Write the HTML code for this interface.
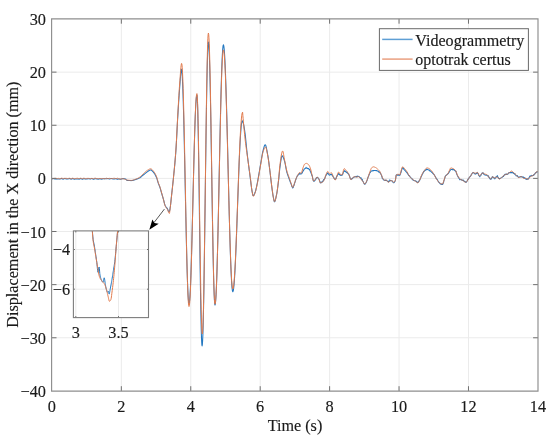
<!DOCTYPE html>
<html><head><meta charset="utf-8"><title>Displacement plot</title>
<style>html,body{margin:0;padding:0;background:#fff;width:550px;height:442px;overflow:hidden} svg text{stroke:#1a1a1a;stroke-width:.15px}</style>
</head><body>
<svg width="550" height="442" viewBox="0 0 550 442" style="display:block;font-family:'Liberation Serif','Times New Roman',serif;font-size:16.3px" fill="#1a1a1a">
<defs><clipPath id="cm"><rect x="51.9" y="19.0" width="486.00" height="371.90"/></clipPath>
<clipPath id="ci"><rect x="73.4" y="230.9" width="75.10" height="86.70"/></clipPath></defs>
<rect width="550" height="442" fill="#fff"/>
<line x1="121.33" y1="19.0" x2="121.33" y2="390.9" stroke="#ebebeb" stroke-width="1"/>
<line x1="190.76" y1="19.0" x2="190.76" y2="390.9" stroke="#ebebeb" stroke-width="1"/>
<line x1="260.19" y1="19.0" x2="260.19" y2="390.9" stroke="#ebebeb" stroke-width="1"/>
<line x1="329.61" y1="19.0" x2="329.61" y2="390.9" stroke="#ebebeb" stroke-width="1"/>
<line x1="399.04" y1="19.0" x2="399.04" y2="390.9" stroke="#ebebeb" stroke-width="1"/>
<line x1="468.47" y1="19.0" x2="468.47" y2="390.9" stroke="#ebebeb" stroke-width="1"/>
<line x1="51.9" y1="337.77" x2="537.9" y2="337.77" stroke="#ebebeb" stroke-width="1"/>
<line x1="51.9" y1="284.64" x2="537.9" y2="284.64" stroke="#ebebeb" stroke-width="1"/>
<line x1="51.9" y1="231.51" x2="537.9" y2="231.51" stroke="#ebebeb" stroke-width="1"/>
<line x1="51.9" y1="178.39" x2="537.9" y2="178.39" stroke="#ebebeb" stroke-width="1"/>
<line x1="51.9" y1="125.26" x2="537.9" y2="125.26" stroke="#ebebeb" stroke-width="1"/>
<line x1="51.9" y1="72.13" x2="537.9" y2="72.13" stroke="#ebebeb" stroke-width="1"/>
<g clip-path="url(#cm)" fill="none" stroke-width="1.0" stroke-linejoin="round">
<path d="M51.90 179.02L52.15 178.88L52.40 178.77L52.65 178.69L52.90 178.63L53.15 178.59L53.40 178.57L53.65 178.58L53.90 178.65L54.15 178.76L54.40 178.88L54.65 179.00L54.90 179.08L55.15 179.10L55.40 179.09L55.65 179.05L55.90 179.01L56.15 178.97L56.40 178.93L56.65 178.92L56.90 178.92L57.15 178.92L57.40 178.92L57.65 178.93L57.90 178.93L58.15 178.93L58.40 178.93L58.65 178.94L58.90 178.94L59.15 178.94L59.40 178.94L59.65 178.94L59.90 178.94L60.15 178.92L60.40 178.86L60.65 178.78L60.90 178.70L61.15 178.63L61.40 178.59L61.65 178.60L61.90 178.68L62.15 178.79L62.40 178.91L62.65 179.03L62.90 179.11L63.15 179.13L63.40 179.08L63.65 178.98L63.90 178.85L64.15 178.73L64.40 178.63L64.65 178.58L64.90 178.59L65.15 178.63L65.40 178.69L65.65 178.77L65.90 178.83L66.15 178.88L66.40 178.89L66.65 178.90L66.90 178.91L67.15 178.92L67.40 178.92L67.65 178.93L67.90 178.93L68.15 178.91L68.40 178.85L68.65 178.77L68.90 178.70L69.15 178.63L69.40 178.59L69.65 178.60L69.90 178.67L70.15 178.78L70.40 178.91L70.65 179.02L70.90 179.10L71.15 179.12L71.40 179.07L71.65 178.98L71.90 178.86L72.15 178.74L72.40 178.65L72.65 178.60L72.90 178.62L73.15 178.71L73.40 178.83L73.65 178.97L73.90 179.09L74.15 179.16L74.40 179.18L74.65 179.15L74.90 179.09L75.15 179.03L75.40 178.97L75.65 178.93L75.90 178.91L76.15 178.91L76.40 178.91L76.65 178.92L76.90 178.92L77.15 178.92L77.40 178.93L77.65 178.94L77.90 178.97L78.15 179.01L78.40 179.06L78.65 179.10L78.90 179.13L79.15 179.14L79.40 179.09L79.65 179.00L79.90 178.88L80.15 178.76L80.40 178.66L80.65 178.61L80.90 178.64L81.15 178.73L81.40 178.86L81.65 178.99L81.90 179.12L82.15 179.20L82.40 179.20L82.65 179.14L82.90 179.04L83.15 178.91L83.40 178.78L83.65 178.69L83.90 178.66L84.15 178.68L84.40 178.73L84.65 178.81L84.90 178.89L85.15 178.95L85.40 178.99L85.65 178.99L85.90 178.99L86.15 178.97L86.40 178.96L86.65 178.93L86.90 178.91L87.15 178.89L87.40 178.86L87.65 178.82L87.90 178.78L88.15 178.74L88.40 178.71L88.65 178.70L88.90 178.71L89.15 178.75L89.40 178.81L89.65 178.87L89.90 178.93L90.15 178.96L90.40 178.96L90.65 178.92L90.90 178.84L91.15 178.74L91.40 178.65L91.65 178.59L91.90 178.56L92.15 178.60L92.40 178.72L92.65 178.87L92.90 179.03L93.15 179.17L93.40 179.25L93.65 179.24L93.90 179.17L94.15 179.07L94.40 178.95L94.65 178.84L94.90 178.77L95.15 178.75L95.40 178.75L95.65 178.77L95.90 178.80L96.15 178.82L96.40 178.85L96.65 178.88L96.90 178.92L97.15 178.97L97.40 179.02L97.65 179.08L97.90 179.12L98.15 179.15L98.40 179.15L98.65 179.10L98.90 179.02L99.15 178.93L99.40 178.84L99.65 178.77L99.90 178.74L100.15 178.77L100.40 178.83L100.65 178.91L100.90 179.00L101.15 179.07L101.40 179.12L101.65 179.11L101.90 179.07L102.15 179.01L102.40 178.94L102.65 178.87L102.90 178.81L103.15 178.79L103.40 178.78L103.65 178.77L103.90 178.76L104.15 178.76L104.40 178.75L104.65 178.75L104.90 178.75L105.15 178.77L105.40 178.79L105.65 178.81L105.90 178.82L106.15 178.83L106.40 178.83L106.65 178.80L106.90 178.75L107.15 178.69L107.40 178.63L107.65 178.59L107.90 178.57L108.15 178.60L108.40 178.67L108.65 178.77L108.90 178.87L109.15 178.96L109.40 179.01L109.65 179.00L109.90 178.93L110.15 178.83L110.40 178.72L110.65 178.61L110.90 178.54L111.15 178.52L111.40 178.55L111.65 178.61L111.90 178.69L112.15 178.77L112.40 178.84L112.65 178.88L112.90 178.89L113.15 178.90L113.40 178.91L113.65 178.91L113.90 178.92L114.15 178.92L114.40 178.92L114.65 178.89L114.90 178.83L115.15 178.77L115.40 178.71L115.65 178.67L115.90 178.65L116.15 178.69L116.40 178.80L116.65 178.94L116.90 179.09L117.15 179.22L117.40 179.29L117.65 179.28L117.90 179.16L118.15 179.01L118.40 178.91L118.65 178.91L118.90 178.93L119.15 178.98L119.40 179.04L119.65 179.10L119.90 179.15L120.15 179.19L120.40 179.20L120.65 179.19L120.90 179.15L121.15 179.09L121.40 179.01L121.65 178.93L121.90 178.85L122.15 178.77L122.40 178.70L122.65 178.64L122.90 178.61L123.15 178.60L123.40 178.61L123.65 178.63L123.90 178.65L124.15 178.69L124.40 178.73L124.65 178.78L124.90 178.84L125.15 178.90L125.40 178.97L125.65 179.07L125.90 179.26L126.15 179.51L126.40 179.80L126.65 180.06L126.90 180.28L127.15 180.39L127.40 180.42L127.65 180.44L127.90 180.47L128.15 180.49L128.40 180.50L128.65 180.52L128.90 180.54L129.15 180.55L129.40 180.56L129.65 180.57L129.90 180.58L130.15 180.59L130.40 180.59L130.65 180.60L130.90 180.60L131.15 180.60L131.40 180.60L131.65 180.59L131.90 180.56L132.15 180.53L132.40 180.49L132.65 180.44L132.90 180.38L133.15 180.31L133.40 180.24L133.65 180.17L133.90 180.09L134.15 180.01L134.40 179.92L134.65 179.84L134.90 179.76L135.15 179.68L135.40 179.60L135.65 179.52L135.90 179.44L136.15 179.36L136.40 179.28L136.65 179.19L136.90 179.10L137.15 179.01L137.40 178.91L137.65 178.81L137.90 178.71L138.15 178.60L138.40 178.49L138.65 178.37L138.90 178.25L139.15 178.13L139.40 178.00L139.65 177.86L139.90 177.71L140.15 177.54L140.40 177.36L140.65 177.18L140.90 176.98L141.15 176.78L141.40 176.57L141.65 176.36L141.90 176.14L142.15 175.93L142.40 175.71L142.65 175.50L142.90 175.29L143.15 175.08L143.40 174.88L143.65 174.68L143.90 174.48L144.15 174.28L144.40 174.07L144.65 173.87L144.90 173.66L145.15 173.45L145.40 173.24L145.65 173.04L145.90 172.84L146.15 172.64L146.40 172.44L146.65 172.26L146.90 172.07L147.15 171.90L147.40 171.73L147.65 171.57L147.90 171.40L148.15 171.23L148.40 171.05L148.65 170.87L148.90 170.70L149.15 170.53L149.40 170.38L149.65 170.25L149.90 170.14L150.15 170.06L150.40 170.01L150.65 170.00L150.90 170.04L151.15 170.12L151.40 170.26L151.65 170.42L151.90 170.63L152.15 170.86L152.40 171.11L152.65 171.38L152.90 171.67L153.15 171.96L153.40 172.25L153.65 172.54L153.90 172.84L154.15 173.16L154.40 173.52L154.65 173.90L154.90 174.31L155.15 174.75L155.40 175.21L155.65 175.70L155.90 176.21L156.15 176.75L156.40 177.30L156.65 177.92L156.90 178.65L157.15 179.44L157.40 180.28L157.65 181.13L157.90 181.97L158.15 182.77L158.40 183.50L158.65 184.15L158.90 184.76L159.15 185.34L159.40 185.94L159.65 186.58L159.90 187.30L160.15 188.09L160.40 188.94L160.65 189.83L160.90 190.73L161.15 191.63L161.40 192.50L161.65 193.34L161.90 194.17L162.15 195.00L162.40 195.82L162.65 196.65L162.90 197.49L163.15 198.33L163.40 199.21L163.65 200.16L163.90 201.15L164.15 202.14L164.40 203.09L164.65 203.97L164.90 204.75L165.15 205.39L165.40 205.89L165.65 206.33L165.90 206.71L166.15 207.05L166.40 207.38L166.65 207.69L166.90 208.02L167.15 208.37L167.40 208.77L167.65 209.25L167.90 209.80L168.15 210.36L168.40 210.88L168.65 211.33L168.90 211.65L169.15 211.80L169.40 211.52L169.65 210.57L169.90 209.31L170.15 207.96L170.40 206.20L170.65 204.10L170.90 201.76L171.15 199.30L171.40 196.83L171.65 194.45L171.90 192.21L172.15 189.98L172.40 187.74L172.65 185.46L172.90 183.14L173.15 180.76L173.40 178.30L173.65 175.80L173.90 173.31L174.15 170.81L174.40 168.25L174.65 165.62L174.90 162.90L175.15 160.05L175.40 157.05L175.65 153.88L175.90 150.50L176.15 146.71L176.40 142.40L176.65 137.73L176.90 132.86L177.15 127.94L177.40 123.12L177.65 118.55L177.90 114.36L178.15 110.27L178.40 106.23L178.65 102.28L178.90 98.44L179.15 94.74L179.40 91.21L179.65 87.88L179.90 84.73L180.15 81.32L180.40 77.81L180.65 74.52L180.90 71.78L181.15 69.90L181.40 69.20L181.72 70.20L182.03 73.20L182.35 78.13L182.67 84.92L182.98 93.44L183.30 103.56L183.62 115.09L183.93 127.85L184.25 141.61L184.57 156.14L184.88 171.19L185.20 186.50L185.52 201.81L185.83 216.86L186.15 231.39L186.47 245.15L186.78 257.91L187.10 269.44L187.42 279.56L187.73 288.08L188.05 294.87L188.37 299.80L188.68 302.80L189.00 303.80L189.33 302.91L189.66 300.24L189.99 295.85L190.32 289.81L190.65 282.23L190.97 273.22L191.30 262.95L191.63 251.60L191.96 239.35L192.29 226.42L192.62 213.03L192.95 199.40L193.28 185.77L193.61 172.38L193.94 159.45L194.27 147.20L194.60 135.85L194.93 125.58L195.25 116.57L195.58 108.99L195.91 102.95L196.24 98.56L196.57 95.89L196.90 95.00L197.12 96.07L197.33 99.28L197.55 104.55L197.77 111.81L197.98 120.93L198.20 131.76L198.42 144.10L198.63 157.75L198.85 172.47L199.07 188.02L199.28 204.12L199.50 220.50L199.72 236.88L199.93 252.98L200.15 268.53L200.37 283.25L200.58 296.90L200.80 309.24L201.02 320.07L201.23 329.19L201.45 336.45L201.67 341.72L201.88 344.93L202.10 346.00L202.36 344.70L202.62 340.82L202.89 334.43L203.15 325.64L203.41 314.59L203.68 301.48L203.94 286.53L204.20 270.00L204.46 252.17L204.72 233.34L204.99 213.84L205.25 194.00L205.51 174.16L205.78 154.66L206.04 135.83L206.30 118.00L206.56 101.47L206.82 86.52L207.09 73.41L207.35 62.36L207.61 53.57L207.88 47.18L208.14 43.30L208.40 42.00L208.68 43.13L208.95 46.48L209.22 52.01L209.50 59.62L209.78 69.17L210.05 80.52L210.33 93.45L210.60 107.75L210.88 123.18L211.15 139.47L211.43 156.34L211.70 173.50L211.97 190.66L212.25 207.53L212.53 223.82L212.80 239.25L213.07 253.55L213.35 266.48L213.62 277.83L213.90 287.38L214.18 294.99L214.45 300.52L214.72 303.87L215.00 305.00L215.35 303.89L215.70 300.57L216.05 295.10L216.40 287.57L216.75 278.12L217.10 266.89L217.45 254.10L217.80 239.95L218.15 224.69L218.50 208.57L218.85 191.88L219.20 174.90L219.55 157.92L219.90 141.23L220.25 125.11L220.60 109.85L220.95 95.70L221.30 82.91L221.65 71.68L222.00 62.23L222.35 54.70L222.70 49.23L223.05 45.91L223.40 44.80L223.79 45.86L224.18 49.01L224.58 54.20L224.97 61.35L225.36 70.32L225.75 80.97L226.14 93.12L226.53 106.55L226.93 121.04L227.32 136.34L227.71 152.18L228.10 168.30L228.49 184.42L228.88 200.26L229.28 215.56L229.67 230.05L230.06 243.48L230.45 255.63L230.84 266.28L231.23 275.25L231.62 282.40L232.02 287.59L232.41 290.74L232.80 291.80L233.20 291.07L233.59 288.89L233.99 285.29L234.38 280.35L234.78 274.13L235.18 266.76L235.57 258.35L235.97 249.05L236.36 239.02L236.76 228.43L237.15 217.46L237.55 206.30L237.95 195.14L238.34 184.17L238.74 173.58L239.13 163.55L239.53 154.25L239.93 145.84L240.32 138.47L240.72 132.25L241.11 127.31L241.51 123.71L241.90 121.53L242.30 120.80L242.55 121.19L242.80 121.76L243.05 122.47L243.30 123.29L243.55 124.19L243.80 125.29L244.05 126.62L244.30 128.13L244.55 129.80L244.80 131.55L245.05 133.37L245.30 135.40L245.55 137.67L245.80 140.11L246.05 142.65L246.30 145.22L246.55 147.76L246.80 150.19L247.05 152.44L247.30 154.59L247.55 156.69L247.80 158.76L248.05 160.80L248.30 162.81L248.55 164.79L248.80 166.75L249.05 168.69L249.30 170.62L249.55 172.54L249.80 174.45L250.05 176.35L250.30 178.27L250.55 180.27L250.80 182.31L251.05 184.33L251.30 186.27L251.55 188.08L251.80 189.69L252.05 191.06L252.30 192.41L252.55 193.72L252.80 194.81L253.05 195.48L253.30 195.59L253.55 195.44L253.80 195.14L254.05 194.73L254.30 194.22L254.55 193.64L254.80 193.02L255.05 192.38L255.30 191.73L255.55 190.95L255.80 190.02L256.05 188.97L256.30 187.84L256.55 186.66L256.80 185.45L257.05 184.24L257.30 183.02L257.55 181.72L257.80 180.36L258.05 178.97L258.30 177.56L258.55 176.15L258.80 174.71L259.05 173.25L259.30 171.76L259.55 170.26L259.80 168.76L260.05 167.27L260.30 165.80L260.55 164.35L260.80 162.93L261.05 161.47L261.30 159.98L261.55 158.47L261.80 156.98L262.05 155.54L262.30 154.16L262.55 152.87L262.80 151.71L263.05 150.69L263.30 149.76L263.55 148.81L263.80 147.87L264.05 146.98L264.30 146.18L264.55 145.52L264.80 145.03L265.05 144.75L265.30 144.73L265.55 145.01L265.80 145.56L266.05 146.36L266.30 147.35L266.55 148.51L266.80 149.80L267.05 151.17L267.30 152.60L267.55 154.03L267.80 155.45L268.05 156.86L268.30 158.45L268.55 160.21L268.80 162.09L269.05 164.08L269.30 166.11L269.55 168.17L269.80 170.20L270.05 172.21L270.30 174.32L270.55 176.49L270.80 178.70L271.05 180.89L271.30 183.03L271.55 185.08L271.80 187.00L272.05 188.84L272.30 190.65L272.55 192.41L272.80 194.08L273.05 195.62L273.30 197.00L273.55 198.26L273.80 199.57L274.05 200.75L274.30 201.57L274.55 201.79L274.80 201.57L275.05 201.06L275.30 200.31L275.55 199.38L275.80 198.31L276.05 197.15L276.30 195.94L276.55 194.74L276.80 193.48L277.05 192.02L277.30 190.36L277.55 188.56L277.80 186.65L278.05 184.66L278.30 182.63L278.55 180.59L278.80 178.32L279.05 175.82L279.30 173.26L279.55 170.78L279.80 168.53L280.05 166.65L280.30 164.86L280.55 163.03L280.80 161.25L281.05 159.59L281.30 158.14L281.55 156.97L281.80 156.17L282.05 155.81L282.30 155.86L282.55 156.07L282.80 156.44L283.05 156.92L283.30 157.50L283.55 158.16L283.80 158.88L284.05 159.63L284.30 160.40L284.55 161.15L284.80 162.07L285.05 163.18L285.30 164.43L285.55 165.77L285.80 167.15L286.05 168.51L286.30 169.81L286.55 170.99L286.80 172.00L287.05 172.88L287.30 173.69L287.55 174.47L287.80 175.20L288.05 175.90L288.30 176.58L288.55 177.25L288.80 177.92L289.05 178.59L289.30 179.28L289.55 179.95L289.80 180.62L290.05 181.29L290.30 181.94L290.55 182.59L290.80 183.23L291.05 183.87L291.30 184.56L291.55 185.37L291.80 186.19L292.05 186.96L292.30 186.94L292.55 187.93L292.80 187.98L293.05 187.74L293.30 187.27L293.55 185.77L293.80 185.89L294.05 185.07L294.30 184.24L294.55 183.44L294.80 182.51L295.05 181.93L295.30 181.09L295.55 180.26L295.80 179.48L296.05 178.98L296.30 178.14L296.55 177.52L296.80 176.94L297.05 176.44L297.30 175.78L297.55 175.72L297.80 175.40L298.05 175.10L298.30 174.82L298.55 174.40L298.80 174.36L299.05 174.20L299.30 174.09L299.55 174.03L299.80 173.12L300.05 173.99L300.30 173.97L300.55 173.96L300.80 173.94L301.05 173.75L301.30 173.87L301.55 173.67L301.80 173.34L302.05 172.93L302.30 172.97L302.55 171.98L302.80 171.54L303.05 171.14L303.30 170.70L303.55 170.61L303.80 169.78L304.05 169.36L304.30 169.01L304.55 168.77L304.80 168.81L305.05 168.47L305.30 168.35L305.55 168.24L305.80 168.15L306.05 167.36L306.30 168.08L306.55 168.09L306.80 168.11L307.05 168.15L307.30 168.64L307.55 168.26L307.80 168.33L308.05 168.42L308.30 168.51L308.55 169.00L308.80 168.76L309.05 169.02L309.30 169.38L309.55 169.81L309.80 169.64L310.05 170.78L310.30 171.28L310.55 171.79L310.80 172.35L311.05 173.02L311.30 173.62L311.55 174.30L311.80 175.00L312.05 175.73L312.30 175.77L312.55 177.71L312.80 178.83L313.05 179.87L313.30 180.70L313.55 180.48L313.80 181.28L314.05 181.20L314.30 181.04L314.55 180.82L314.80 180.14L315.05 180.28L315.30 180.00L315.55 179.71L315.80 179.29L316.05 178.14L316.30 178.31L316.55 177.86L316.80 177.52L317.05 177.37L317.30 177.63L317.55 177.49L317.80 177.66L318.05 177.89L318.30 178.15L318.55 178.76L318.80 178.74L319.05 179.20L319.30 179.90L319.55 180.72L319.80 181.16L320.05 182.26L320.30 182.73L320.55 182.86L320.80 182.82L321.05 182.30L321.30 182.59L321.55 182.43L321.80 182.24L322.05 182.05L322.30 181.12L322.55 181.63L322.80 181.37L323.05 181.07L323.30 180.74L323.55 179.61L323.80 180.01L324.05 179.61L324.30 179.20L324.55 178.75L324.80 178.37L325.05 177.57L325.30 176.91L325.55 176.27L325.80 175.70L326.05 175.24L326.30 174.88L326.55 174.52L326.80 174.18L327.05 173.88L327.30 172.82L327.55 173.47L327.80 173.42L328.05 173.52L328.30 173.78L328.55 173.95L328.80 174.50L329.05 174.84L329.30 175.07L329.55 175.13L329.80 174.76L330.05 174.91L330.30 174.71L330.55 174.51L330.80 174.34L331.05 174.60L331.30 174.22L331.55 174.34L331.80 174.57L332.05 174.89L332.30 175.45L332.55 175.69L332.80 176.13L333.05 176.56L333.30 176.97L333.55 177.32L333.80 177.71L334.05 178.14L334.30 178.58L334.55 178.97L334.80 179.22L335.05 179.47L335.30 179.48L335.55 179.21L335.80 178.71L336.05 178.59L336.30 177.37L336.55 176.71L336.80 176.16L337.05 175.75L337.30 175.93L337.55 174.96L337.80 174.59L338.05 174.29L338.30 174.08L338.55 173.59L338.80 174.03L339.05 174.19L339.30 174.44L339.55 174.71L339.80 174.43L340.05 175.16L340.30 175.24L340.55 175.25L340.80 175.25L341.05 175.55L341.30 175.26L341.55 175.27L341.80 175.27L342.05 175.26L342.30 174.26L342.55 174.63L342.80 174.05L343.05 173.37L343.30 172.69L343.55 171.70L343.80 171.56L344.05 171.26L344.30 171.20L344.55 171.24L344.80 170.52L345.05 171.43L345.30 171.56L345.55 171.71L345.80 171.87L346.05 171.62L346.30 172.21L346.55 172.38L346.80 172.55L347.05 172.74L347.30 172.14L347.55 173.15L347.80 173.38L348.05 173.63L348.30 173.90L348.55 173.73L348.80 174.51L349.05 174.93L349.30 175.50L349.55 176.16L349.80 177.16L350.05 177.57L350.30 178.19L350.55 178.69L350.80 179.00L351.05 179.55L351.30 179.04L351.55 178.94L351.80 178.80L352.05 178.62L352.30 178.71L352.55 178.22L352.80 178.02L353.05 177.83L353.30 177.67L353.55 177.46L353.80 177.34L354.05 177.17L354.30 177.00L354.55 176.87L354.80 176.81L355.05 176.77L355.30 176.77L355.55 176.77L355.80 176.77L356.05 176.41L356.30 176.77L356.55 176.75L356.80 176.73L357.05 176.69L357.30 176.00L357.55 176.60L357.80 176.56L358.05 176.52L358.30 176.50L358.55 176.25L358.80 176.55L359.05 176.66L359.30 176.83L359.55 177.04L359.80 177.48L360.05 177.55L360.30 177.82L360.55 178.10L360.80 178.36L361.05 177.82L361.30 178.92L361.55 179.24L361.80 179.58L362.05 179.93L362.30 179.42L362.55 180.67L362.80 181.05L363.05 181.43L363.30 181.90L363.55 182.71L363.80 183.03L364.05 183.56L364.30 183.98L364.55 184.23L364.80 183.81L365.05 184.12L365.30 183.85L365.55 183.48L365.80 183.04L366.05 182.71L366.30 182.07L366.55 181.58L366.80 180.97L367.05 180.27L367.30 179.72L367.55 178.75L367.80 178.00L368.05 177.30L368.30 176.66L368.55 176.51L368.80 175.37L369.05 174.75L369.30 174.17L369.55 173.65L369.80 172.90L370.05 172.79L370.30 172.39L370.55 172.01L370.80 171.67L371.05 171.03L371.30 171.17L371.55 171.02L371.80 170.92L372.05 170.83L372.30 171.06L372.55 170.68L372.80 170.63L373.05 170.59L373.30 170.56L373.55 170.77L373.80 170.50L374.05 170.47L374.30 170.45L374.55 170.43L374.80 170.50L375.05 170.41L375.30 170.40L375.55 170.40L375.80 170.42L376.05 170.78L376.30 170.52L376.55 170.60L376.80 170.69L377.05 170.79L377.30 170.96L377.55 171.00L377.80 171.11L378.05 171.23L378.30 171.36L378.55 172.05L378.80 171.68L379.05 171.87L379.30 172.07L379.55 172.29L379.80 172.14L380.05 172.83L380.30 173.15L380.55 173.51L380.80 173.89L381.05 174.51L381.30 174.81L381.55 175.48L381.80 176.24L382.05 177.03L382.30 178.30L382.55 178.41L382.80 178.85L383.05 179.18L383.30 179.49L383.55 179.37L383.80 180.00L384.05 180.19L384.30 180.31L384.55 180.35L384.80 180.38L385.05 180.37L385.30 180.38L385.55 180.38L385.80 180.39L386.05 180.05L386.30 180.42L386.55 180.51L386.80 180.68L387.05 180.89L387.30 180.92L387.55 181.36L387.80 181.58L388.05 181.76L388.30 181.87L388.55 181.11L388.80 181.79L389.05 181.56L389.30 181.27L389.55 180.97L389.80 179.84L390.05 180.54L390.30 180.51L390.55 180.53L390.80 180.56L391.05 180.84L391.30 180.66L391.55 180.72L391.80 180.80L392.05 180.91L392.30 180.96L392.55 181.55L392.80 181.95L393.05 182.33L393.30 182.63L393.55 182.80L393.80 182.73L394.05 182.57L394.30 182.29L394.55 181.92L394.80 181.68L395.05 180.96L395.30 180.41L395.55 179.33L395.80 177.63L396.05 175.67L396.30 174.88L396.55 174.78L396.80 174.84L397.05 174.95L397.30 174.72L397.55 175.19L397.80 175.29L398.05 175.33L398.30 175.33L398.55 174.66L398.80 175.28L399.05 175.24L399.30 175.18L399.55 175.11L399.80 175.32L400.05 174.78L400.30 174.24L400.55 173.52L400.80 172.73L401.05 172.30L401.30 171.25L401.55 170.43L401.80 169.54L402.05 168.71L402.30 168.28L402.55 167.78L402.80 167.81L403.05 167.97L403.30 168.23L403.55 168.96L403.80 168.90L404.05 169.27L404.30 169.61L404.55 169.92L404.80 170.27L405.05 170.47L405.30 170.75L405.55 171.03L405.80 171.31L406.05 171.75L406.30 171.91L406.55 172.22L406.80 172.56L407.05 172.91L407.30 172.67L407.55 173.65L407.80 174.02L408.05 174.38L408.30 174.73L408.55 175.31L408.80 175.38L409.05 175.68L409.30 175.98L409.55 176.27L409.80 176.16L410.05 176.84L410.30 177.12L410.55 177.38L410.80 177.66L411.05 177.70L411.30 178.23L411.55 178.52L411.80 178.80L412.05 179.07L412.30 178.91L412.55 179.57L412.80 179.79L413.05 179.99L413.30 180.16L413.55 180.25L413.80 180.41L414.05 180.50L414.30 180.58L414.55 180.65L414.80 180.80L415.05 180.79L415.30 180.86L415.55 180.96L415.80 181.07L416.05 181.19L416.30 181.46L416.55 181.72L416.80 181.99L417.05 182.24L417.30 182.01L417.55 182.56L417.80 182.56L418.05 182.44L418.30 182.21L418.55 181.30L418.80 181.48L419.05 181.05L419.30 180.60L419.55 180.16L419.80 180.10L420.05 179.27L420.30 178.76L420.55 178.21L420.80 177.65L421.05 176.62L421.30 176.49L421.55 175.93L421.80 175.40L422.05 174.91L422.30 174.18L422.55 173.93L422.80 173.43L423.05 172.94L423.30 172.49L423.55 171.31L423.80 171.70L424.05 171.40L424.30 171.16L424.55 170.94L424.80 170.28L425.05 170.53L425.30 170.33L425.55 170.16L425.80 170.00L426.05 169.09L426.30 169.74L426.55 169.65L426.80 169.60L427.05 169.57L427.30 169.19L427.55 169.60L427.80 169.65L428.05 169.71L428.30 169.78L428.55 170.03L428.80 169.96L429.05 170.05L429.30 170.15L429.55 170.28L429.80 171.01L430.05 170.66L430.30 170.89L430.55 171.15L430.80 171.41L431.05 171.72L431.30 171.94L431.55 172.18L431.80 172.41L432.05 172.63L432.30 172.35L432.55 173.06L432.80 173.28L433.05 173.51L433.30 173.75L433.55 174.09L433.80 174.28L434.05 174.58L434.30 174.93L434.55 175.32L434.80 175.77L435.05 176.16L435.30 176.60L435.55 177.03L435.80 177.46L436.05 178.21L436.30 178.26L436.55 178.65L436.80 179.04L437.05 179.43L437.30 179.71L437.55 180.19L437.80 180.56L438.05 180.91L438.30 181.26L438.55 182.06L438.80 181.94L439.05 182.30L439.30 182.65L439.55 183.00L439.80 183.04L440.05 183.60L440.30 183.83L440.55 184.02L440.80 184.14L441.05 183.77L441.30 184.33L441.55 184.42L441.80 184.48L442.05 184.53L442.30 184.43L442.55 184.50L442.80 184.15L443.05 183.57L443.30 182.83L443.55 182.49L443.80 181.16L444.05 180.38L444.30 179.63L444.55 178.76L444.80 178.05L445.05 177.03L445.30 176.35L445.55 175.91L445.80 175.62L446.05 175.23L446.30 175.19L446.55 175.02L446.80 174.86L447.05 174.69L447.30 174.34L447.55 174.25L447.80 173.97L448.05 173.66L448.30 173.33L448.55 173.05L448.80 172.63L449.05 172.28L449.30 171.92L449.55 171.50L449.80 170.80L450.05 170.57L450.30 170.14L450.55 169.81L450.80 169.60L451.05 169.46L451.30 169.48L451.55 169.44L451.80 169.40L452.05 169.37L452.30 169.90L452.55 169.32L452.80 169.31L453.05 169.31L453.30 169.32L453.55 169.89L453.80 169.50L454.05 169.65L454.30 169.83L454.55 170.05L454.80 170.64L455.05 170.53L455.30 170.79L455.55 171.09L455.80 171.52L456.05 171.36L456.30 172.70L456.55 173.38L456.80 174.07L457.05 174.74L457.30 175.29L457.55 175.88L457.80 176.33L458.05 176.79L458.30 177.24L458.55 177.32L458.80 178.08L459.05 178.46L459.30 178.78L459.55 179.05L459.80 179.73L460.05 179.39L460.30 179.51L460.55 179.60L460.80 179.68L461.05 179.33L461.30 179.82L461.55 179.88L461.80 179.94L462.05 180.00L462.30 180.56L462.55 180.15L462.80 180.24L463.05 180.35L463.30 180.49L463.55 180.12L463.80 180.86L464.05 181.06L464.30 181.27L464.55 181.47L464.80 181.38L465.05 181.80L465.30 181.93L465.55 182.01L465.80 182.04L466.05 182.52L466.30 181.83L466.55 181.60L466.80 181.30L467.05 180.94L467.30 180.54L467.55 180.13L467.80 179.70L468.05 179.28L468.30 178.88L468.55 179.01L468.80 178.19L469.05 177.89L469.30 177.58L469.55 177.28L469.80 176.89L470.05 176.68L470.30 176.38L470.55 176.07L470.80 175.75L471.05 174.85L471.30 175.00L471.55 174.55L471.80 174.09L472.05 173.63L472.30 173.39L472.55 172.89L472.80 172.65L473.05 172.54L473.30 172.58L473.55 172.59L473.80 172.92L474.05 173.16L474.30 173.43L474.55 173.69L474.80 173.76L475.05 174.05L475.30 174.11L475.55 174.07L475.80 173.97L476.05 173.13L476.30 173.66L476.55 173.48L476.80 173.32L477.05 173.18L477.30 172.41L477.55 173.07L477.80 173.24L478.05 173.61L478.30 174.10L478.55 175.15L478.80 175.21L479.05 175.71L479.30 176.07L479.55 176.24L479.80 176.74L480.05 176.04L480.30 175.79L480.55 175.46L480.80 175.09L481.05 175.23L481.30 174.29L481.55 173.91L481.80 173.58L482.05 173.33L482.30 172.81L482.55 173.13L482.80 173.21L483.05 173.37L483.30 173.60L483.55 173.04L483.80 174.15L484.05 174.41L484.30 174.64L484.55 174.80L484.80 174.81L485.05 174.93L485.30 174.97L485.55 175.00L485.80 175.02L486.05 175.25L486.30 175.08L486.55 175.12L486.80 175.17L487.05 175.25L487.30 175.46L487.55 175.59L487.80 175.83L488.05 176.11L488.30 176.41L488.55 175.91L488.80 177.05L489.05 177.35L489.30 177.69L489.55 178.12L489.80 178.03L490.05 178.98L490.30 179.26L490.55 179.33L490.80 179.23L491.05 179.15L491.30 178.68L491.55 178.31L491.80 177.94L492.05 177.60L492.30 176.51L492.55 177.17L492.80 177.15L493.05 177.22L493.30 177.35L493.55 177.90L493.80 177.72L494.05 177.92L494.30 178.10L494.55 178.23L494.80 178.89L495.05 178.28L495.30 178.14L495.55 177.90L495.80 177.60L496.05 176.74L496.30 176.94L496.55 176.66L496.80 176.45L497.05 176.36L497.30 175.59L497.55 176.59L497.80 176.88L498.05 177.24L498.30 177.61L498.55 178.54L498.80 178.28L499.05 178.49L499.30 178.57L499.55 178.55L499.80 178.75L500.05 178.43L500.30 178.33L500.55 178.21L500.80 178.07L501.05 177.71L501.30 177.77L501.55 177.61L501.80 177.45L502.05 177.28L502.30 176.94L502.55 176.93L502.80 176.70L503.05 176.45L503.30 176.18L503.55 176.38L503.80 175.63L504.05 175.38L504.30 175.14L504.55 174.94L504.80 174.41L505.05 174.67L505.30 174.61L505.55 174.57L505.80 174.54L506.05 173.69L506.30 174.48L506.55 174.45L506.80 174.42L507.05 174.38L507.30 174.34L507.55 174.21L507.80 174.03L508.05 173.80L508.30 173.55L508.55 172.85L508.80 173.04L509.05 172.83L509.30 172.68L509.55 172.60L509.80 172.69L510.05 172.53L510.30 172.49L510.55 172.47L510.80 172.44L511.05 172.95L511.30 172.41L511.55 172.41L511.80 172.42L512.05 172.48L512.30 172.21L512.55 172.68L512.80 172.82L513.05 172.97L513.30 173.14L513.55 172.77L513.80 173.45L514.05 173.62L514.30 173.81L514.55 174.02L514.80 173.43L515.05 174.48L515.30 174.71L515.55 174.93L515.80 175.14L516.05 175.67L516.30 175.52L516.55 175.72L516.80 175.93L517.05 176.13L517.30 175.55L517.55 176.52L517.80 176.69L518.05 176.84L518.30 176.96L518.55 177.57L518.80 177.08L519.05 177.08L519.30 177.04L519.55 176.96L519.80 177.02L520.05 176.76L520.30 176.66L520.55 176.57L520.80 176.51L521.05 176.94L521.30 176.49L521.55 176.54L521.80 176.62L522.05 176.72L522.30 177.18L522.55 177.00L522.80 177.15L523.05 177.31L523.30 177.47L523.55 177.01L523.80 177.77L524.05 177.90L524.30 178.03L524.55 178.16L524.80 177.66L525.05 178.43L525.30 178.56L525.55 178.68L525.80 178.79L526.05 179.42L526.30 178.97L526.55 179.06L526.80 179.14L527.05 179.22L527.30 178.82L527.55 179.32L527.80 179.33L528.05 179.23L528.30 178.96L528.55 178.86L528.80 178.12L529.05 177.67L529.30 177.25L529.55 176.93L529.80 176.06L530.05 176.48L530.30 176.27L530.55 176.08L530.80 175.92L531.05 175.34L531.30 175.71L531.55 175.67L531.80 175.65L532.05 175.63L532.30 175.73L532.55 175.60L532.80 175.58L533.05 175.56L533.30 175.51L533.55 174.84L533.80 175.13L534.05 174.84L534.30 174.50L534.55 174.15L534.80 174.03L535.05 173.50L535.30 173.22L535.55 172.90L535.80 172.58L536.05 172.72L536.30 172.11L536.55 172.05L536.80 172.04L537.05 172.03L537.30 171.60L537.55 172.02L537.80 172.01L537.90 172.01" stroke="#2277c0" stroke-width="1.05"/>
<path d="M51.90 178.57L52.15 178.58L52.40 178.59L52.65 178.59L52.90 178.59L53.15 178.59L53.40 178.59L53.65 178.59L53.90 178.55L54.15 178.50L54.40 178.44L54.65 178.38L54.90 178.34L55.15 178.33L55.40 178.36L55.65 178.42L55.90 178.50L56.15 178.58L56.40 178.64L56.65 178.67L56.90 178.66L57.15 178.62L57.40 178.57L57.65 178.51L57.90 178.46L58.15 178.43L58.40 178.42L58.65 178.47L58.90 178.54L59.15 178.63L59.40 178.72L59.65 178.79L59.90 178.81L60.15 178.77L60.40 178.68L60.65 178.55L60.90 178.42L61.15 178.30L61.40 178.24L61.65 178.24L61.90 178.28L62.15 178.33L62.40 178.39L62.65 178.45L62.90 178.49L63.15 178.50L63.40 178.49L63.65 178.46L63.90 178.43L64.15 178.40L64.40 178.37L64.65 178.36L64.90 178.36L65.15 178.36L65.40 178.37L65.65 178.38L65.90 178.39L66.15 178.40L66.40 178.41L66.65 178.43L66.90 178.45L67.15 178.47L67.40 178.49L67.65 178.50L67.90 178.50L68.15 178.49L68.40 178.46L68.65 178.41L68.90 178.36L69.15 178.32L69.40 178.30L69.65 178.31L69.90 178.37L70.15 178.46L70.40 178.56L70.65 178.66L70.90 178.72L71.15 178.74L71.40 178.70L71.65 178.61L71.90 178.50L72.15 178.39L72.40 178.30L72.65 178.26L72.90 178.28L73.15 178.34L73.40 178.43L73.65 178.52L73.90 178.61L74.15 178.66L74.40 178.67L74.65 178.66L74.90 178.63L75.15 178.59L75.40 178.55L75.65 178.51L75.90 178.48L76.15 178.45L76.40 178.42L76.65 178.38L76.90 178.35L77.15 178.33L77.40 178.32L77.65 178.33L77.90 178.37L78.15 178.43L78.40 178.51L78.65 178.57L78.90 178.62L79.15 178.63L79.40 178.60L79.65 178.53L79.90 178.44L80.15 178.36L80.40 178.29L80.65 178.26L80.90 178.27L81.15 178.34L81.40 178.43L81.65 178.52L81.90 178.61L82.15 178.66L82.40 178.67L82.65 178.62L82.90 178.54L83.15 178.44L83.40 178.34L83.65 178.27L83.90 178.24L84.15 178.28L84.40 178.35L84.65 178.45L84.90 178.56L85.15 178.65L85.40 178.70L85.65 178.70L85.90 178.66L86.15 178.60L86.40 178.53L86.65 178.46L86.90 178.42L87.15 178.40L87.40 178.40L87.65 178.40L87.90 178.40L88.15 178.40L88.40 178.40L88.65 178.40L88.90 178.40L89.15 178.43L89.40 178.48L89.65 178.52L89.90 178.57L90.15 178.59L90.40 178.59L90.65 178.58L90.90 178.54L91.15 178.51L91.40 178.47L91.65 178.44L91.90 178.43L92.15 178.45L92.40 178.48L92.65 178.52L92.90 178.57L93.15 178.61L93.40 178.63L93.65 178.62L93.90 178.57L94.15 178.48L94.40 178.39L94.65 178.30L94.90 178.24L95.15 178.22L95.40 178.26L95.65 178.33L95.90 178.43L96.15 178.52L96.40 178.60L96.65 178.64L96.90 178.63L97.15 178.61L97.40 178.59L97.65 178.56L97.90 178.54L98.15 178.52L98.40 178.52L98.65 178.54L98.90 178.57L99.15 178.61L99.40 178.64L99.65 178.67L99.90 178.68L100.15 178.68L100.40 178.67L100.65 178.65L100.90 178.64L101.15 178.62L101.40 178.60L101.65 178.59L101.90 178.57L102.15 178.55L102.40 178.53L102.65 178.51L102.90 178.50L103.15 178.50L103.40 178.52L103.65 178.58L103.90 178.64L104.15 178.70L104.40 178.75L104.65 178.78L104.90 178.76L105.15 178.68L105.40 178.57L105.65 178.45L105.90 178.34L106.15 178.28L106.40 178.27L106.65 178.30L106.90 178.36L107.15 178.43L107.40 178.50L107.65 178.55L107.90 178.57L108.15 178.55L108.40 178.53L108.65 178.49L108.90 178.45L109.15 178.42L109.40 178.40L109.65 178.41L109.90 178.43L110.15 178.47L110.40 178.51L110.65 178.55L110.90 178.58L111.15 178.59L111.40 178.58L111.65 178.57L111.90 178.55L112.15 178.52L112.40 178.50L112.65 178.47L112.90 178.45L113.15 178.42L113.40 178.39L113.65 178.37L113.90 178.34L114.15 178.33L114.40 178.33L114.65 178.36L114.90 178.42L115.15 178.49L115.40 178.56L115.65 178.61L115.90 178.63L116.15 178.61L116.40 178.55L116.65 178.48L116.90 178.40L117.15 178.34L117.40 178.30L117.65 178.32L117.90 178.42L118.15 178.55L118.40 178.67L118.65 178.74L118.90 178.79L119.15 178.85L119.40 178.90L119.65 178.94L119.90 178.97L120.15 178.99L120.40 179.00L120.65 178.99L120.90 178.97L121.15 178.94L121.40 178.91L121.65 178.87L121.90 178.83L122.15 178.79L122.40 178.75L122.65 178.72L122.90 178.70L123.15 178.70L123.40 178.72L123.65 178.76L123.90 178.82L124.15 178.90L124.40 179.00L124.65 179.11L124.90 179.22L125.15 179.34L125.40 179.46L125.65 179.58L125.90 179.69L126.15 179.80L126.40 179.90L126.65 179.98L126.90 180.05L127.15 180.09L127.40 180.12L127.65 180.15L127.90 180.18L128.15 180.21L128.40 180.23L128.65 180.26L128.90 180.28L129.15 180.30L129.40 180.32L129.65 180.34L129.90 180.36L130.15 180.37L130.40 180.38L130.65 180.39L130.90 180.40L131.15 180.40L131.40 180.40L131.65 180.39L131.90 180.36L132.15 180.33L132.40 180.28L132.65 180.22L132.90 180.16L133.15 180.09L133.40 180.01L133.65 179.93L133.90 179.84L134.15 179.75L134.40 179.66L134.65 179.57L134.90 179.48L135.15 179.39L135.40 179.30L135.65 179.21L135.90 179.12L136.15 179.03L136.40 178.93L136.65 178.82L136.90 178.72L137.15 178.61L137.40 178.49L137.65 178.37L137.90 178.25L138.15 178.12L138.40 177.99L138.65 177.85L138.90 177.70L139.15 177.55L139.40 177.40L139.65 177.23L139.90 177.05L140.15 176.85L140.40 176.63L140.65 176.41L140.90 176.17L141.15 175.93L141.40 175.68L141.65 175.42L141.90 175.17L142.15 174.91L142.40 174.65L142.65 174.40L142.90 174.16L143.15 173.92L143.40 173.69L143.65 173.47L143.90 173.24L144.15 173.02L144.40 172.79L144.65 172.56L144.90 172.34L145.15 172.11L145.40 171.89L145.65 171.67L145.90 171.45L146.15 171.24L146.40 171.04L146.65 170.85L146.90 170.66L147.15 170.49L147.40 170.32L147.65 170.17L147.90 170.02L148.15 169.86L148.40 169.70L148.65 169.54L148.90 169.39L149.15 169.25L149.40 169.12L149.65 169.01L149.90 168.92L150.15 168.85L150.40 168.81L150.65 168.80L150.90 168.84L151.15 168.93L151.40 169.07L151.65 169.24L151.90 169.45L152.15 169.69L152.40 169.96L152.65 170.24L152.90 170.53L153.15 170.84L153.40 171.14L153.65 171.44L153.90 171.74L154.15 172.08L154.40 172.44L154.65 172.82L154.90 173.24L155.15 173.68L155.40 174.15L155.65 174.65L155.90 175.17L156.15 175.72L156.40 176.30L156.65 176.96L156.90 177.74L157.15 178.61L157.40 179.53L157.65 180.46L157.90 181.38L158.15 182.23L158.40 183.00L158.65 183.67L158.90 184.28L159.15 184.86L159.40 185.45L159.65 186.08L159.90 186.79L160.15 187.58L160.40 188.42L160.65 189.30L160.90 190.20L161.15 191.11L161.40 192.00L161.65 192.88L161.90 193.78L162.15 194.67L162.40 195.58L162.65 196.49L162.90 197.40L163.15 198.32L163.40 199.27L163.65 200.29L163.90 201.35L164.15 202.42L164.40 203.44L164.65 204.39L164.90 205.21L165.15 205.89L165.40 206.41L165.65 206.85L165.90 207.24L166.15 207.58L166.40 207.91L166.65 208.24L166.90 208.58L167.15 208.95L167.40 209.38L167.65 209.93L167.90 210.56L168.15 211.23L168.40 211.88L168.65 212.47L168.90 212.96L169.15 213.28L169.40 213.40L169.65 212.41L169.90 210.38L170.15 208.48L170.40 206.46L170.65 204.28L170.90 202.00L171.15 199.65L171.40 197.29L171.65 194.96L171.90 192.68L172.15 190.40L172.40 188.12L172.65 185.81L172.90 183.44L173.15 181.01L173.40 178.50L173.65 175.95L173.90 173.40L174.15 170.83L174.40 168.21L174.65 165.52L174.90 162.72L175.15 159.80L175.40 156.72L175.65 153.46L175.90 150.00L176.15 146.12L176.40 141.74L176.65 136.99L176.90 132.03L177.15 126.99L177.40 122.03L177.65 117.28L177.90 112.86L178.15 108.46L178.40 104.06L178.65 99.72L178.90 95.49L179.15 91.43L179.40 87.60L179.65 84.06L179.90 80.81L180.15 77.39L180.40 73.88L180.65 70.54L180.90 67.58L181.15 65.26L181.40 63.79L181.60 63.40L181.91 64.44L182.22 67.54L182.53 72.65L182.83 79.68L183.14 88.52L183.45 99.00L183.76 110.96L184.07 124.17L184.38 138.43L184.68 153.49L184.99 169.08L185.30 184.95L185.61 200.82L185.92 216.41L186.22 231.47L186.53 245.72L186.84 258.94L187.15 270.90L187.46 281.38L187.77 290.22L188.07 297.25L188.38 302.36L188.69 305.46L189.00 306.50L189.33 305.59L189.66 302.87L189.99 298.40L190.32 292.24L190.65 284.50L190.97 275.32L191.30 264.85L191.63 253.28L191.96 240.79L192.29 227.60L192.62 213.94L192.95 200.05L193.28 186.16L193.61 172.50L193.94 159.31L194.27 146.83L194.60 135.25L194.93 124.78L195.25 115.60L195.58 107.86L195.91 101.70L196.24 97.23L196.57 94.51L196.90 93.60L197.12 94.63L197.35 97.70L197.58 102.75L197.80 109.70L198.03 118.44L198.25 128.81L198.47 140.63L198.70 153.70L198.93 167.80L199.15 182.69L199.38 198.11L199.60 213.80L199.83 229.49L200.05 244.91L200.28 259.80L200.50 273.90L200.73 286.97L200.95 298.79L201.18 309.16L201.40 317.90L201.62 324.85L201.85 329.90L202.08 332.97L202.30 334.00L202.55 332.71L202.81 328.87L203.06 322.55L203.32 313.84L203.57 302.91L203.83 289.93L204.08 275.14L204.33 258.78L204.59 241.12L204.84 222.49L205.10 203.19L205.35 183.55L205.60 163.91L205.86 144.61L206.11 125.98L206.37 108.33L206.62 91.96L206.88 77.17L207.13 64.19L207.38 53.26L207.64 44.55L207.89 38.23L208.15 34.39L208.40 33.10L208.68 34.26L208.95 37.72L209.22 43.42L209.50 51.26L209.78 61.11L210.05 72.80L210.33 86.13L210.60 100.87L210.88 116.78L211.15 133.57L211.43 150.96L211.70 168.65L211.97 186.34L212.25 203.73L212.53 220.52L212.80 236.42L213.07 251.17L213.35 264.50L213.62 276.19L213.90 286.04L214.18 293.88L214.45 299.58L214.72 303.04L215.00 304.20L215.35 303.11L215.70 299.87L216.05 294.52L216.40 287.17L216.75 277.92L217.10 266.96L217.45 254.45L217.80 240.62L218.15 225.71L218.50 209.96L218.85 193.65L219.20 177.05L219.55 160.45L219.90 144.14L220.25 128.39L220.60 113.48L220.95 99.65L221.30 87.14L221.65 76.18L222.00 66.93L222.35 59.58L222.70 54.23L223.05 50.99L223.40 49.90L223.79 50.92L224.18 53.97L224.58 59.00L224.97 65.92L225.36 74.60L225.75 84.92L226.14 96.67L226.53 109.67L226.93 123.70L227.32 138.51L227.71 153.85L228.10 169.45L228.49 185.05L228.88 200.39L229.28 215.20L229.67 229.22L230.06 242.23L230.45 253.98L230.84 264.30L231.23 272.98L231.62 279.90L232.02 284.93L232.41 287.98L232.80 289.00L233.21 288.24L233.62 285.99L234.03 282.27L234.43 277.16L234.84 270.73L235.25 263.11L235.66 254.41L236.07 244.80L236.47 234.43L236.88 223.48L237.29 212.14L237.70 200.60L238.11 189.06L238.52 177.72L238.93 166.77L239.33 156.40L239.74 146.79L240.15 138.09L240.56 130.47L240.97 124.04L241.38 118.93L241.78 115.21L242.19 112.96L242.60 112.20L242.85 115.29L243.10 118.30L243.35 121.22L243.60 124.05L243.85 126.79L244.10 129.44L244.35 132.00L244.60 134.47L244.85 136.84L245.10 139.12L245.35 141.29L245.60 143.33L245.85 145.26L246.10 147.11L246.35 148.92L246.60 150.70L246.85 152.50L247.10 154.34L247.35 156.16L247.60 157.95L247.85 159.73L248.10 161.49L248.35 163.25L248.60 165.00L248.85 166.76L249.10 168.52L249.35 170.29L249.60 172.08L249.85 173.90L250.10 175.74L250.35 177.62L250.60 179.60L250.85 181.75L251.10 183.99L251.35 186.19L251.60 188.27L251.85 190.10L252.10 191.60L252.35 192.94L252.60 194.25L252.85 195.36L253.10 196.10L253.35 196.30L253.60 196.15L253.85 195.83L254.10 195.37L254.35 194.80L254.60 194.15L254.85 193.46L255.10 192.77L255.35 192.07L255.60 191.26L255.85 190.34L256.10 189.33L256.35 188.25L256.60 187.12L256.85 185.96L257.10 184.80L257.35 183.59L257.60 182.30L257.85 180.95L258.10 179.57L258.35 178.18L258.60 176.78L258.85 175.34L259.10 173.88L259.35 172.40L259.60 170.91L259.85 169.42L260.10 167.94L260.35 166.48L260.60 165.06L260.85 163.65L261.10 162.18L261.35 160.66L261.60 159.13L261.85 157.64L262.10 156.20L262.35 154.86L262.60 153.66L262.85 152.63L263.10 151.80L263.35 151.08L263.60 150.38L263.85 149.70L264.10 149.06L264.35 148.48L264.60 147.98L264.85 147.58L265.10 147.29L265.35 147.13L265.60 147.13L265.85 147.42L266.10 148.01L266.35 148.83L266.60 149.86L266.85 151.03L267.10 152.31L267.35 153.66L267.60 155.01L267.85 156.34L268.10 157.69L268.35 159.22L268.60 160.90L268.85 162.69L269.10 164.58L269.35 166.52L269.60 168.47L269.85 170.42L270.10 172.37L270.35 174.43L270.60 176.56L270.85 178.73L271.10 180.89L271.35 183.01L271.60 185.05L271.85 186.98L272.10 188.91L272.35 190.85L272.60 192.74L272.85 194.51L273.10 196.11L273.35 197.46L273.60 198.66L273.85 199.85L274.10 200.85L274.35 201.48L274.60 201.57L274.85 201.30L275.10 200.77L275.35 200.01L275.60 199.08L275.85 198.02L276.10 196.88L276.35 195.69L276.60 194.50L276.85 193.20L277.10 191.65L277.35 189.90L277.60 187.98L277.85 185.94L278.10 183.81L278.35 181.62L278.60 179.38L278.85 176.76L279.10 173.87L279.35 170.92L279.60 168.13L279.85 165.70L280.10 163.78L280.35 161.95L280.60 160.13L280.85 158.35L281.10 156.67L281.35 155.12L281.60 153.76L281.85 152.62L282.10 151.75L282.35 151.19L282.60 151.00L282.85 151.28L283.10 152.04L283.35 153.16L283.60 154.52L283.85 156.02L284.10 157.53L284.35 158.95L284.60 160.18L284.85 161.41L285.10 162.69L285.35 163.99L285.60 165.29L285.85 166.56L286.10 167.79L286.35 168.95L286.60 170.02L286.85 170.98L287.10 171.85L287.35 172.66L287.60 173.43L287.85 174.15L288.10 174.85L288.35 175.54L288.60 176.22L288.85 176.90L289.10 177.61L289.35 178.34L289.60 179.08L289.85 179.82L290.10 180.56L290.35 181.29L290.60 182.01L290.85 182.72L291.10 183.40L291.35 184.14L291.60 184.96L291.85 185.78L292.10 186.51L292.35 187.07L292.60 187.37L292.85 187.35L293.10 187.07L293.35 186.59L293.60 185.96L293.85 185.22L294.10 184.43L294.35 183.63L294.60 182.88L294.85 182.18L295.10 181.41L295.35 180.61L295.60 179.82L295.85 179.09L296.10 178.46L296.35 177.88L296.60 177.35L296.85 176.84L297.10 176.37L297.35 175.91L297.60 175.43L297.85 174.91L298.10 174.40L298.35 173.90L298.60 173.45L298.85 173.07L299.10 172.79L299.35 172.63L299.60 172.61L299.85 172.67L300.10 172.77L300.35 172.90L300.60 173.03L300.85 173.13L301.10 173.19L301.35 173.12L301.60 172.67L301.85 171.93L302.10 171.01L302.35 170.01L302.60 169.05L302.85 168.24L303.10 167.56L303.35 166.86L303.60 166.16L303.85 165.51L304.10 164.94L304.35 164.49L304.60 164.20L304.85 164.01L305.10 163.84L305.35 163.69L305.60 163.56L305.85 163.47L306.10 163.41L306.35 163.40L306.60 163.43L306.85 163.50L307.10 163.60L307.35 163.73L307.60 163.89L307.85 164.07L308.10 164.26L308.35 164.48L308.60 164.70L308.85 164.98L309.10 165.36L309.35 165.82L309.60 166.35L309.85 166.94L310.10 167.57L310.35 168.24L310.60 169.04L310.85 169.99L311.10 171.04L311.35 172.14L311.60 173.25L311.85 174.31L312.10 175.30L312.35 176.42L312.60 177.63L312.85 178.81L313.10 179.85L313.35 180.64L313.60 181.06L313.85 181.08L314.10 180.94L314.35 180.72L314.60 180.43L314.85 180.10L315.10 179.77L315.35 179.46L315.60 179.14L315.85 178.74L316.10 178.31L316.35 177.90L316.60 177.54L316.85 177.29L317.10 177.20L317.35 177.26L317.60 177.41L317.85 177.64L318.10 177.94L318.35 178.27L318.60 178.62L318.85 178.98L319.10 179.50L319.35 180.21L319.60 180.99L319.85 181.74L320.10 182.35L320.35 182.73L320.60 182.80L320.85 182.77L321.10 182.72L321.35 182.65L321.60 182.56L321.85 182.46L322.10 182.35L322.35 182.22L322.60 182.03L322.85 181.79L323.10 181.50L323.35 181.16L323.60 180.79L323.85 180.38L324.10 179.95L324.35 179.49L324.60 178.96L324.85 178.25L325.10 177.43L325.35 176.56L325.60 175.70L325.85 174.93L326.10 174.30L326.35 173.75L326.60 173.19L326.85 172.65L327.10 172.17L327.35 171.80L327.60 171.56L327.85 171.51L328.10 171.69L328.35 172.07L328.60 172.55L328.85 173.05L329.10 173.48L329.35 173.75L329.60 173.79L329.85 173.67L330.10 173.46L330.35 173.20L330.60 172.94L330.85 172.73L331.10 172.61L331.35 172.64L331.60 172.87L331.85 173.26L332.10 173.78L332.35 174.38L332.60 175.04L332.85 175.70L333.10 176.34L333.35 176.91L333.60 177.39L333.85 177.90L334.10 178.45L334.35 178.98L334.60 179.45L334.85 179.80L335.10 179.98L335.35 179.94L335.60 179.61L335.85 179.05L336.10 178.34L336.35 177.57L336.60 176.80L336.85 176.12L337.10 175.49L337.35 174.76L337.60 174.00L337.85 173.28L338.10 172.67L338.35 172.26L338.60 172.10L338.85 172.21L339.10 172.50L339.35 172.90L339.60 173.35L339.85 173.78L340.10 174.13L340.35 174.33L340.60 174.46L340.85 174.59L341.10 174.70L341.35 174.79L341.60 174.86L341.85 174.89L342.10 174.86L342.35 174.48L342.60 173.77L342.85 172.84L343.10 171.80L343.35 170.76L343.60 169.83L343.85 169.12L344.10 168.74L344.35 168.72L344.60 168.81L344.85 168.97L345.10 169.20L345.35 169.47L345.60 169.77L345.85 170.08L346.10 170.41L346.35 170.72L346.60 171.02L346.85 171.32L347.10 171.64L347.35 171.98L347.60 172.33L347.85 172.71L348.10 173.10L348.35 173.51L348.60 173.94L348.85 174.40L349.10 174.98L349.35 175.70L349.60 176.49L349.85 177.30L350.10 178.06L350.35 178.73L350.60 179.25L350.85 179.55L351.10 179.59L351.35 179.47L351.60 179.25L351.85 178.96L352.10 178.62L352.35 178.26L352.60 177.91L352.85 177.59L353.10 177.34L353.35 177.17L353.60 177.05L353.85 176.92L354.10 176.81L354.35 176.72L354.60 176.65L354.85 176.61L355.10 176.61L355.35 176.72L355.60 176.90L355.85 177.08L356.10 177.19L356.35 177.19L356.60 177.15L356.85 177.08L357.10 177.00L357.35 176.90L357.60 176.80L357.85 176.72L358.10 176.65L358.35 176.61L358.60 176.61L358.85 176.69L359.10 176.86L359.35 177.09L359.60 177.37L359.85 177.68L360.10 178.01L360.35 178.34L360.60 178.66L360.85 178.96L361.10 179.25L361.35 179.55L361.60 179.86L361.85 180.18L362.10 180.51L362.35 180.84L362.60 181.17L362.85 181.50L363.10 181.84L363.35 182.24L363.60 182.69L363.85 183.13L364.10 183.52L364.35 183.82L364.60 183.98L364.85 183.97L365.10 183.81L365.35 183.52L365.60 183.15L365.85 182.72L366.10 182.25L366.35 181.79L366.60 181.31L366.85 180.73L367.10 180.08L367.35 179.38L367.60 178.65L367.85 177.92L368.10 177.20L368.35 176.47L368.60 175.71L368.85 174.93L369.10 174.14L369.35 173.38L369.60 172.65L369.85 171.97L370.10 171.28L370.35 170.59L370.60 169.91L370.85 169.29L371.10 168.74L371.35 168.30L371.60 167.98L371.85 167.70L372.10 167.44L372.35 167.20L372.60 167.01L372.85 166.88L373.10 166.81L373.35 166.80L373.60 166.83L373.85 166.88L374.10 166.94L374.35 167.02L374.60 167.12L374.85 167.22L375.10 167.32L375.35 167.43L375.60 167.55L375.85 167.68L376.10 167.85L376.35 168.03L376.60 168.23L376.85 168.44L377.10 168.66L377.35 168.89L377.60 169.11L377.85 169.33L378.10 169.55L378.35 169.77L378.60 170.00L378.85 170.25L379.10 170.53L379.35 170.83L379.60 171.19L379.85 171.62L380.10 172.11L380.35 172.64L380.60 173.19L380.85 173.75L381.10 174.30L381.35 174.88L381.60 175.51L381.85 176.17L382.10 176.81L382.35 177.42L382.60 177.95L382.85 178.38L383.10 178.78L383.35 179.19L383.60 179.56L383.85 179.89L384.10 180.13L384.35 180.27L384.60 180.30L384.85 180.27L385.10 180.21L385.35 180.15L385.60 180.09L385.85 180.03L386.10 180.00L386.35 180.03L386.60 180.18L386.85 180.45L387.10 180.78L387.35 181.15L387.60 181.52L387.85 181.85L388.10 182.12L388.35 182.27L388.60 182.29L388.85 182.15L389.10 181.90L389.35 181.59L389.60 181.28L389.85 181.01L390.10 180.83L390.35 180.77L390.60 180.72L390.85 180.68L391.10 180.65L391.35 180.62L391.60 180.61L391.85 180.60L392.10 180.67L392.35 180.89L392.60 181.23L392.85 181.60L393.10 181.95L393.35 182.20L393.60 182.30L393.85 182.26L394.10 182.13L394.35 181.93L394.60 181.65L394.85 181.32L395.10 180.94L395.35 180.49L395.60 179.32L395.85 177.60L396.10 175.95L396.35 174.96L396.60 174.77L396.85 174.62L397.10 174.51L397.35 174.42L397.60 174.35L397.85 174.31L398.10 174.30L398.35 174.34L398.60 174.43L398.85 174.55L399.10 174.68L399.35 174.80L399.60 174.88L399.85 174.89L400.10 174.51L400.35 173.74L400.60 172.73L400.85 171.67L401.10 170.71L401.35 169.94L401.60 169.10L401.85 168.26L402.10 167.52L402.35 167.00L402.60 166.80L402.85 166.85L403.10 166.99L403.35 167.20L403.60 167.46L403.85 167.75L404.10 168.05L404.35 168.34L404.60 168.61L404.85 168.88L405.10 169.16L405.35 169.46L405.60 169.77L405.85 170.10L406.10 170.43L406.35 170.78L406.60 171.15L406.85 171.55L407.10 171.98L407.35 172.43L407.60 172.90L407.85 173.36L408.10 173.82L408.35 174.25L408.60 174.66L408.85 175.07L409.10 175.49L409.35 175.89L409.60 176.29L409.85 176.66L410.10 177.01L410.35 177.33L410.60 177.61L410.85 177.87L411.10 178.11L411.35 178.34L411.60 178.56L411.85 178.77L412.10 178.97L412.35 179.16L412.60 179.35L412.85 179.53L413.10 179.71L413.35 179.89L413.60 180.07L413.85 180.25L414.10 180.41L414.35 180.58L414.60 180.74L414.85 180.89L415.10 181.05L415.35 181.21L415.60 181.37L415.85 181.53L416.10 181.73L416.35 181.95L416.60 182.18L416.85 182.39L417.10 182.58L417.35 182.72L417.60 182.79L417.85 182.77L418.10 182.62L418.35 182.36L418.60 182.01L418.85 181.59L419.10 181.13L419.35 180.65L419.60 180.18L419.85 179.71L420.10 179.17L420.35 178.55L420.60 177.88L420.85 177.19L421.10 176.49L421.35 175.81L421.60 175.17L421.85 174.60L422.10 174.11L422.35 173.66L422.60 173.22L422.85 172.81L423.10 172.42L423.35 172.05L423.60 171.69L423.85 171.35L424.10 171.03L424.35 170.71L424.60 170.37L424.85 170.03L425.10 169.68L425.35 169.34L425.60 169.01L425.85 168.71L426.10 168.44L426.35 168.22L426.60 168.05L426.85 167.94L427.10 167.90L427.35 167.92L427.60 167.96L427.85 168.03L428.10 168.12L428.35 168.22L428.60 168.34L428.85 168.46L429.10 168.59L429.35 168.73L429.60 168.88L429.85 169.07L430.10 169.28L430.35 169.52L430.60 169.77L430.85 170.04L431.10 170.32L431.35 170.61L431.60 170.90L431.85 171.20L432.10 171.53L432.35 171.88L432.60 172.24L432.85 172.62L433.10 173.01L433.35 173.41L433.60 173.81L433.85 174.22L434.10 174.64L434.35 175.08L434.60 175.54L434.85 176.01L435.10 176.49L435.35 176.97L435.60 177.43L435.85 177.88L436.10 178.30L436.35 178.71L436.60 179.12L436.85 179.52L437.10 179.92L437.35 180.31L437.60 180.68L437.85 181.02L438.10 181.35L438.35 181.64L438.60 181.92L438.85 182.20L439.10 182.47L439.35 182.73L439.60 182.98L439.85 183.20L440.10 183.40L440.35 183.55L440.60 183.67L440.85 183.74L441.10 183.81L441.35 183.87L441.60 183.92L441.85 183.96L442.10 183.99L442.35 184.00L442.60 183.90L442.85 183.53L443.10 182.96L443.35 182.26L443.60 181.48L443.85 180.70L444.10 180.00L444.35 179.28L444.60 178.45L444.85 177.62L445.10 176.86L445.35 176.25L445.60 175.87L445.85 175.60L446.10 175.39L446.35 175.21L446.60 175.05L446.85 174.89L447.10 174.70L447.35 174.47L447.60 174.17L447.85 173.77L448.10 173.28L448.35 172.74L448.60 172.18L448.85 171.62L449.10 171.09L449.35 170.60L449.60 170.04L449.85 169.45L450.10 168.89L450.35 168.41L450.60 168.07L450.85 167.90L451.10 167.91L451.35 167.95L451.60 168.02L451.85 168.11L452.10 168.21L452.35 168.33L452.60 168.45L452.85 168.58L453.10 168.70L453.35 168.83L453.60 168.96L453.85 169.10L454.10 169.26L454.35 169.44L454.60 169.63L454.85 169.85L455.10 170.08L455.35 170.34L455.60 170.67L455.85 171.14L456.10 171.71L456.35 172.36L456.60 173.04L456.85 173.73L457.10 174.39L457.35 174.99L457.60 175.50L457.85 175.95L458.10 176.40L458.35 176.83L458.60 177.25L458.85 177.64L459.10 178.01L459.35 178.34L459.60 178.62L459.85 178.86L460.10 179.05L460.35 179.22L460.60 179.38L460.85 179.52L461.10 179.64L461.35 179.76L461.60 179.87L461.85 179.99L462.10 180.10L462.35 180.21L462.60 180.34L462.85 180.47L463.10 180.62L463.35 180.80L463.60 181.00L463.85 181.20L464.10 181.41L464.35 181.61L464.60 181.80L464.85 181.97L465.10 182.11L465.35 182.22L465.60 182.28L465.85 182.30L466.10 182.22L466.35 182.04L466.60 181.79L466.85 181.46L467.10 181.08L467.35 180.66L467.60 180.22L467.85 179.77L468.10 179.33L468.35 178.92L468.60 178.54L468.85 178.20L469.10 177.87L469.35 177.54L469.60 177.21L469.85 176.89L470.10 176.56L470.35 176.23L470.60 175.90L470.85 175.57L471.10 175.21L471.35 174.79L471.60 174.35L471.85 173.89L472.10 173.46L472.35 173.08L472.60 172.78L472.85 172.57L473.10 172.50L473.35 172.53L473.60 172.61L473.85 172.72L474.10 172.85L474.35 172.98L474.60 173.11L474.85 173.21L475.10 173.28L475.35 173.30L475.60 173.26L475.85 173.18L476.10 173.06L476.35 172.93L476.60 172.79L476.85 172.67L477.10 172.57L477.35 172.51L477.60 172.52L477.85 172.75L478.10 173.17L478.35 173.72L478.60 174.32L478.85 174.91L479.10 175.41L479.35 175.77L479.60 175.90L479.85 175.84L480.10 175.67L480.35 175.42L480.60 175.10L480.85 174.75L481.10 174.38L481.35 174.01L481.60 173.66L481.85 173.37L482.10 173.15L482.35 173.02L482.60 173.00L482.85 173.05L483.10 173.14L483.35 173.26L483.60 173.40L483.85 173.55L484.10 173.70L484.35 173.84L484.60 173.96L484.85 174.05L485.10 174.13L485.35 174.20L485.60 174.26L485.85 174.32L486.10 174.39L486.35 174.47L486.60 174.56L486.85 174.67L487.10 174.84L487.35 175.09L487.60 175.41L487.85 175.77L488.10 176.17L488.35 176.57L488.60 176.96L488.85 177.31L489.10 177.60L489.35 177.87L489.60 178.16L489.85 178.43L490.10 178.65L490.35 178.78L490.60 178.79L490.85 178.67L491.10 178.45L491.35 178.17L491.60 177.85L491.85 177.53L492.10 177.25L492.35 177.03L492.60 176.91L492.85 176.91L493.10 176.99L493.35 177.11L493.60 177.27L493.85 177.43L494.10 177.60L494.35 177.74L494.60 177.85L494.85 177.90L495.10 177.88L495.35 177.79L495.60 177.66L495.85 177.50L496.10 177.33L496.35 177.17L496.60 177.03L496.85 176.94L497.10 176.90L497.35 176.98L497.60 177.19L497.85 177.49L498.10 177.85L498.35 178.22L498.60 178.57L498.85 178.86L499.10 179.05L499.35 179.10L499.60 179.06L499.85 178.96L500.10 178.81L500.35 178.63L500.60 178.41L500.85 178.18L501.10 177.93L501.35 177.68L501.60 177.43L501.85 177.19L502.10 176.98L502.35 176.78L502.60 176.58L502.85 176.37L503.10 176.16L503.35 175.94L503.60 175.73L503.85 175.52L504.10 175.32L504.35 175.14L504.60 174.97L504.85 174.82L505.10 174.70L505.35 174.60L505.60 174.51L505.85 174.44L506.10 174.37L506.35 174.31L506.60 174.24L506.85 174.17L507.10 174.08L507.35 173.98L507.60 173.85L507.85 173.70L508.10 173.53L508.35 173.35L508.60 173.17L508.85 172.97L509.10 172.79L509.35 172.60L509.60 172.43L509.85 172.23L510.10 172.02L510.35 171.79L510.60 171.58L510.85 171.39L511.10 171.24L511.35 171.14L511.60 171.10L511.85 171.15L512.10 171.28L512.35 171.47L512.60 171.72L512.85 171.99L513.10 172.28L513.35 172.56L513.60 172.82L513.85 173.04L514.10 173.24L514.35 173.43L514.60 173.61L514.85 173.80L515.10 173.98L515.35 174.17L515.60 174.37L515.85 174.57L516.10 174.79L516.35 175.05L516.60 175.35L516.85 175.67L517.10 176.00L517.35 176.33L517.60 176.65L517.85 176.94L518.10 177.20L518.35 177.40L518.60 177.54L518.85 177.60L519.10 177.57L519.35 177.48L519.60 177.34L519.85 177.16L520.10 176.98L520.35 176.80L520.60 176.64L520.85 176.54L521.10 176.50L521.35 176.54L521.60 176.65L521.85 176.82L522.10 177.02L522.35 177.25L522.60 177.50L522.85 177.74L523.10 177.96L523.35 178.16L523.60 178.30L523.85 178.39L524.10 178.40L524.35 178.40L524.60 178.40L524.85 178.40L525.10 178.40L525.35 178.40L525.60 178.40L525.85 178.40L526.10 178.41L526.35 178.50L526.60 178.66L526.85 178.86L527.10 179.06L527.35 179.24L527.60 179.37L527.85 179.40L528.10 179.29L528.35 179.05L528.60 178.73L528.85 178.36L529.10 177.99L529.35 177.66L529.60 177.40L529.85 177.20L530.10 177.01L530.35 176.83L530.60 176.67L530.85 176.51L531.10 176.37L531.35 176.23L531.60 176.10L531.85 175.99L532.10 175.89L532.35 175.80L532.60 175.70L532.85 175.59L533.10 175.46L533.35 175.30L533.60 175.12L533.85 174.90L534.10 174.67L534.35 174.41L534.60 174.15L534.85 173.88L535.10 173.60L535.35 173.28L535.60 172.90L535.85 172.51L536.10 172.16L536.35 171.90L536.60 171.75L536.85 171.65L537.10 171.55L537.35 171.48L537.60 171.42L537.85 171.40L537.90 171.40" stroke="#e27a4c" stroke-width="1.0"/>
</g>
<path d="M121.33 391.1V386.20M121.33 18.8V23.70M190.76 391.1V386.20M190.76 18.8V23.70M260.19 391.1V386.20M260.19 18.8V23.70M329.61 391.1V386.20M329.61 18.8V23.70M399.04 391.1V386.20M399.04 18.8V23.70M468.47 391.1V386.20M468.47 18.8V23.70M51.6 337.77H56.50M538.0 337.77H533.10M51.6 284.64H56.50M538.0 284.64H533.10M51.6 231.51H56.50M538.0 231.51H533.10M51.6 178.39H56.50M538.0 178.39H533.10M51.6 125.26H56.50M538.0 125.26H533.10M51.6 72.13H56.50M538.0 72.13H533.10" stroke="#707070" stroke-width="1" fill="none"/>
<path d="M51.6 18.8H538.0V391.1H51.6Z" fill="none" stroke="#8e8e8e" stroke-width="1.15"/>
<text x="51.90" y="411.5" text-anchor="middle">0</text>
<text x="121.33" y="411.5" text-anchor="middle">2</text>
<text x="190.76" y="411.5" text-anchor="middle">4</text>
<text x="260.19" y="411.5" text-anchor="middle">6</text>
<text x="329.61" y="411.5" text-anchor="middle">8</text>
<text x="399.04" y="411.5" text-anchor="middle">10</text>
<text x="468.47" y="411.5" text-anchor="middle">12</text>
<text x="537.90" y="411.5" text-anchor="middle">14</text>
<text x="46.0" y="396.90" text-anchor="end">−40</text>
<text x="46.0" y="343.77" text-anchor="end">−30</text>
<text x="46.0" y="290.64" text-anchor="end">−20</text>
<text x="46.0" y="237.51" text-anchor="end">−10</text>
<text x="46.0" y="184.39" text-anchor="end">0</text>
<text x="46.0" y="131.26" text-anchor="end">10</text>
<text x="46.0" y="78.13" text-anchor="end">20</text>
<text x="46.0" y="25.00" text-anchor="end">30</text>
<text x="295" y="431.3" text-anchor="middle" font-size="16.15">Time (s)</text>
<text transform="translate(18.2 204.6) rotate(-90)" text-anchor="middle" font-size="16.15">Displacement in the X direction (mm)</text>
<rect x="379.4" y="28.7" width="149.0" height="41.7" fill="#fff" stroke="#6a6a6a" stroke-width="1"/>
<line x1="382.2" y1="39.4" x2="412.6" y2="39.4" stroke="#5e9fd5" stroke-width="1.5"/>
<line x1="382.2" y1="59.1" x2="412.6" y2="59.1" stroke="#eaa080" stroke-width="1.5"/>
<text x="415.3" y="45.9" font-size="16" textLength="109" lengthAdjust="spacingAndGlyphs">Videogrammetry</text>
<text x="415.3" y="64.8" font-size="16" textLength="95.3" lengthAdjust="spacingAndGlyphs">optotrak certus</text>
<line x1="164.4" y1="209.1" x2="154" y2="222.6" stroke="#444" stroke-width="0.9"/>
<path d="M149.3 229.7L152.4 219.4L154.4 222.9L158.7 223.8Z" fill="#000"/>
<rect x="73.4" y="230.9" width="75.10" height="86.70" fill="#fff"/>
<line x1="75.80" y1="230.9" x2="75.80" y2="317.6" stroke="#ebebeb" stroke-width="1"/>
<line x1="118.50" y1="230.9" x2="118.50" y2="317.6" stroke="#ebebeb" stroke-width="1"/>
<line x1="73.4" y1="249.50" x2="148.5" y2="249.50" stroke="#ebebeb" stroke-width="1"/>
<line x1="73.4" y1="289.20" x2="148.5" y2="289.20" stroke="#ebebeb" stroke-width="1"/>
<g clip-path="url(#ci)" fill="none" stroke-width="1.0" stroke-linejoin="round">
<path d="M92.20 229.00L92.40 231.59L92.60 234.02L92.80 236.21L93.00 238.10L93.20 239.62L93.40 240.89L93.60 241.99L93.80 242.99L94.00 243.96L94.20 244.98L94.40 246.10L94.60 247.33L94.80 248.61L95.00 249.93L95.20 251.27L95.40 252.62L95.60 253.98L95.80 255.33L96.00 256.69L96.20 258.06L96.40 259.47L96.60 260.91L96.80 262.40L97.00 264.19L97.20 266.31L97.40 268.49L97.60 270.41L97.80 271.78L98.00 272.30L98.20 271.83L98.40 270.68L98.60 269.23L98.80 267.89L99.00 267.03L99.20 267.13L99.40 268.70L99.60 271.07L99.80 273.47L100.00 275.10L100.20 276.04L100.40 276.89L100.60 277.64L100.80 278.31L101.00 278.91L101.20 279.44L101.40 279.90L101.60 280.31L101.80 280.68L102.00 281.05L102.20 281.40L102.40 281.72L102.60 281.98L102.80 282.18L103.00 282.29L103.20 282.20L103.40 281.48L103.60 280.36L103.80 279.15L104.00 278.19L104.20 277.80L104.40 278.19L104.60 279.20L104.80 280.59L105.00 282.11L105.20 283.52L105.40 284.64L105.60 285.74L105.80 286.83L106.00 287.85L106.20 288.76L106.40 289.50L106.60 290.15L106.80 290.79L107.00 291.38L107.20 291.86L107.40 292.18L107.60 292.30L107.80 292.17L108.00 291.88L108.20 291.56L108.40 291.33L108.60 291.51L108.80 292.70L109.00 293.89L109.20 294.03L109.40 293.52L109.60 292.63L109.80 291.51L110.00 290.29L110.20 289.12L110.40 288.10L110.60 287.09L110.80 286.04L111.00 284.98L111.20 283.89L111.40 282.78L111.60 281.65L111.80 280.50L112.00 279.32L112.20 278.12L112.40 276.88L112.60 275.63L112.80 274.36L113.00 273.07L113.20 271.79L113.40 270.50L113.60 269.24L113.80 268.02L114.00 266.81L114.20 265.57L114.40 264.28L114.60 262.90L114.80 261.40L115.00 259.74L115.20 257.84L115.40 255.74L115.60 253.52L115.80 251.25L116.00 249.00L116.20 246.82L116.40 244.64L116.60 242.45L116.80 240.24L117.00 238.02L117.20 235.79L117.40 233.54L117.60 231.28L117.80 229.00" stroke="#2277c0"/>
<path d="M92.20 229.00L92.40 232.14L92.60 235.07L92.80 237.68L93.00 239.83L93.20 241.46L93.40 242.78L93.60 243.90L93.80 244.90L94.00 245.84L94.20 246.82L94.40 247.90L94.60 249.07L94.80 250.27L95.00 251.48L95.20 252.71L95.40 253.94L95.60 255.17L95.80 256.39L96.00 257.61L96.20 258.83L96.40 260.06L96.60 261.29L96.80 262.52L97.00 263.74L97.20 264.94L97.40 266.11L97.60 267.25L97.80 268.36L98.00 269.51L98.20 270.69L98.40 271.86L98.60 273.00L98.80 274.08L99.00 275.06L99.20 275.91L99.40 276.62L99.60 277.15L99.80 277.63L100.00 278.06L100.20 278.46L100.40 278.83L100.60 279.17L100.80 279.49L101.00 279.78L101.20 280.07L101.40 280.34L101.60 280.60L101.80 280.87L102.00 281.13L102.20 281.40L102.40 281.66L102.60 281.89L102.80 282.11L103.00 282.31L103.20 282.51L103.40 282.71L103.60 282.92L103.80 283.13L104.00 283.37L104.20 283.64L104.40 283.94L104.60 284.28L104.80 284.69L105.00 285.16L105.20 285.68L105.40 286.26L105.60 286.86L105.80 287.50L106.00 288.16L106.20 288.83L106.40 289.50L106.60 290.20L106.80 290.96L107.00 291.77L107.20 292.60L107.40 293.46L107.60 294.32L107.80 295.17L108.00 296.00L108.20 296.80L108.40 297.67L108.60 298.66L108.80 299.63L109.00 300.48L109.20 301.07L109.40 301.30L109.60 301.26L109.80 301.15L110.00 300.97L110.20 300.73L110.40 300.43L110.60 300.09L110.80 299.71L111.00 299.22L111.20 298.29L111.40 296.97L111.60 295.41L111.80 293.73L112.00 292.08L112.20 290.55L112.40 289.01L112.60 287.43L112.80 285.81L113.00 284.13L113.20 282.39L113.40 280.58L113.60 278.70L113.80 276.72L114.00 274.63L114.20 272.44L114.40 270.17L114.60 267.83L114.80 265.42L115.00 262.94L115.20 260.28L115.40 257.50L115.60 254.66L115.80 251.86L116.00 249.17L116.20 246.66L116.40 244.25L116.60 241.90L116.80 239.62L117.00 237.39L117.20 235.20L117.40 233.07L117.60 231.01L117.80 229.00" stroke="#e27a4c"/>
</g>
<path d="M75.80 317.6V316.1M75.80 230.9V232.4M118.50 317.6V316.1M118.50 230.9V232.4M73.4 249.50H74.9M148.5 249.50H147.0M73.4 289.20H74.9M148.5 289.20H147.0" stroke="#6a6a6a" stroke-width="1" fill="none"/>
<rect x="73.4" y="230.9" width="75.10" height="86.70" fill="none" stroke="#7c7c7c" stroke-width="1.1"/>
<text x="75.80" y="338.3" text-anchor="middle">3</text>
<text x="118.50" y="338.3" text-anchor="middle">3.5</text>
<text x="70.2" y="254.90" text-anchor="end">−4</text>
<text x="70.2" y="294.60" text-anchor="end">−6</text>
</svg>
</body></html>
